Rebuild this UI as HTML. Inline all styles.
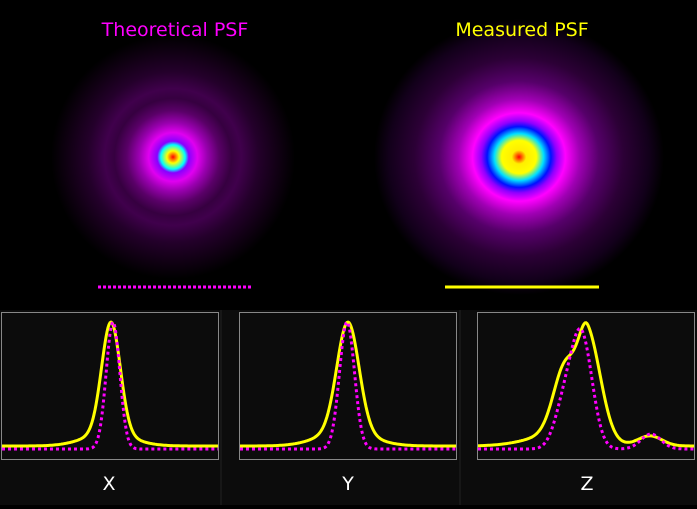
<!DOCTYPE html>
<html><head><style>
body{margin:0;width:697px;height:505px;background:#000;overflow:hidden;font-family:"DejaVu Sans","Liberation Sans",sans-serif}
</style></head><body>
<svg width="697" height="505" xmlns="http://www.w3.org/2000/svg">
<defs>
<radialGradient id="t" cx="0.5" cy="0.5" r="0.5">
<stop offset="0" stop-color="#ff0000"/>
<stop offset="0.05" stop-color="#ffff00"/>
<stop offset="0.1" stop-color="#00ffff"/>
<stop offset="0.13" stop-color="#8800ff"/>
<stop offset="0.2" stop-color="#e000f0"/>
<stop offset="0.28" stop-color="#9a00b0"/>
<stop offset="0.38" stop-color="#5a0068"/>
<stop offset="0.48" stop-color="#360040"/>
<stop offset="0.56" stop-color="#40004c"/>
<stop offset="0.7" stop-color="#24002b"/>
<stop offset="0.85" stop-color="#120015"/>
<stop offset="1" stop-color="#000"/>
</radialGradient>
<radialGradient id="m" cx="0.5" cy="0.5" r="0.5">
<stop offset="0" stop-color="#ff0000"/>
<stop offset="0.05" stop-color="#ffee00"/>
<stop offset="0.12" stop-color="#ffff00"/>
<stop offset="0.17" stop-color="#00e0ff"/>
<stop offset="0.22" stop-color="#0010ff"/>
<stop offset="0.26" stop-color="#9000ff"/>
<stop offset="0.32" stop-color="#ff00ff"/>
<stop offset="0.42" stop-color="#a000b4"/>
<stop offset="0.55" stop-color="#56006a"/>
<stop offset="0.72" stop-color="#2c0036"/>
<stop offset="0.9" stop-color="#12001a"/>
<stop offset="1" stop-color="#000"/>
</radialGradient>
</defs>
<rect width="697" height="310" fill="#000"/>
<circle cx="173" cy="157" r="122" fill="url(#t)"/>
<ellipse cx="519" cy="157" rx="145" ry="138" fill="url(#m)"/>
<text x="175" y="36" fill="#ff00ff" font-size="19" text-anchor="middle" font-family="DejaVu Sans,sans-serif">Theoretical PSF</text>
<text x="522" y="36" fill="#ffff00" font-size="19" text-anchor="middle" font-family="DejaVu Sans,sans-serif">Measured PSF</text>
<line x1="98" y1="287" x2="252" y2="287" stroke="#ff00ff" stroke-width="3" stroke-dasharray="3 2"/>
<line x1="445" y1="287" x2="599" y2="287" stroke="#ffff00" stroke-width="3"/>
<rect x="0" y="310" width="697" height="195" fill="#0c0c0c"/>
<line x1="221" y1="310" x2="221" y2="505" stroke="#222"/>
<line x1="460" y1="310" x2="460" y2="505" stroke="#222"/>
<rect x="1.5" y="312.5" width="217" height="147" fill="#0c0c0c" stroke="#888"/>
<rect x="239.5" y="312.5" width="217" height="147" fill="#0c0c0c" stroke="#888"/>
<rect x="477.5" y="312.5" width="217" height="147" fill="#0c0c0c" stroke="#888"/>
<g id="curves"></g>
<text x="109" y="490" fill="#fff" font-size="19" text-anchor="middle">X</text>
<text x="348" y="490" fill="#fff" font-size="19" text-anchor="middle">Y</text>
<text x="587" y="490" fill="#fff" font-size="19" text-anchor="middle">Z</text>
</svg>
<script>
function G(x,c,s){return Math.exp(-(x-c)*(x-c)/(2*s*s));}
function A(x,c,sl,sr){return G(x,c,x<c?sl:sr);}
function path(x0,x1,f){let d="";for(let x=x0;x<=x1;x+=1){d+=(x==x0?"M":"L")+x+","+f(x).toFixed(1);}return d;}
const curves=[
 [2,218,x=>446-124*(0.9*G(x,111,9.3)+0.1*G(x,108,24)),"#ffff00",""],
 [2,218,x=>449-127*G(x,113,6.8),"#ff00ff","3 3"],
 [240,456,x=>446-124*(0.88*G(x,348,11)+0.12*G(x,345,26)),"#ffff00",""],
 [240,456,x=>449-127*G(x,347,7.5),"#ff00ff","3 3"],
 [478,694,x=>446-(100*A(x,588,9,13)+70*G(x,566,12)+12*G(x,560,30)+10*G(x,650,12)),"#ffff00",""],
 [478,694,x=>449-(108*A(x,582,10,10.5)+45*G(x,565,10)+15*G(x,651,10)),"#ff00ff","3 3"]
];
let h="";for(const c of curves){h+='<path d="'+path(c[0],c[1],c[2])+'" fill="none" stroke="'+c[3]+'" stroke-width="3"'+(c[4]?' stroke-dasharray="'+c[4]+'"':'')+'/>';}
document.getElementById("curves").innerHTML=h;
</script>
</body></html>
